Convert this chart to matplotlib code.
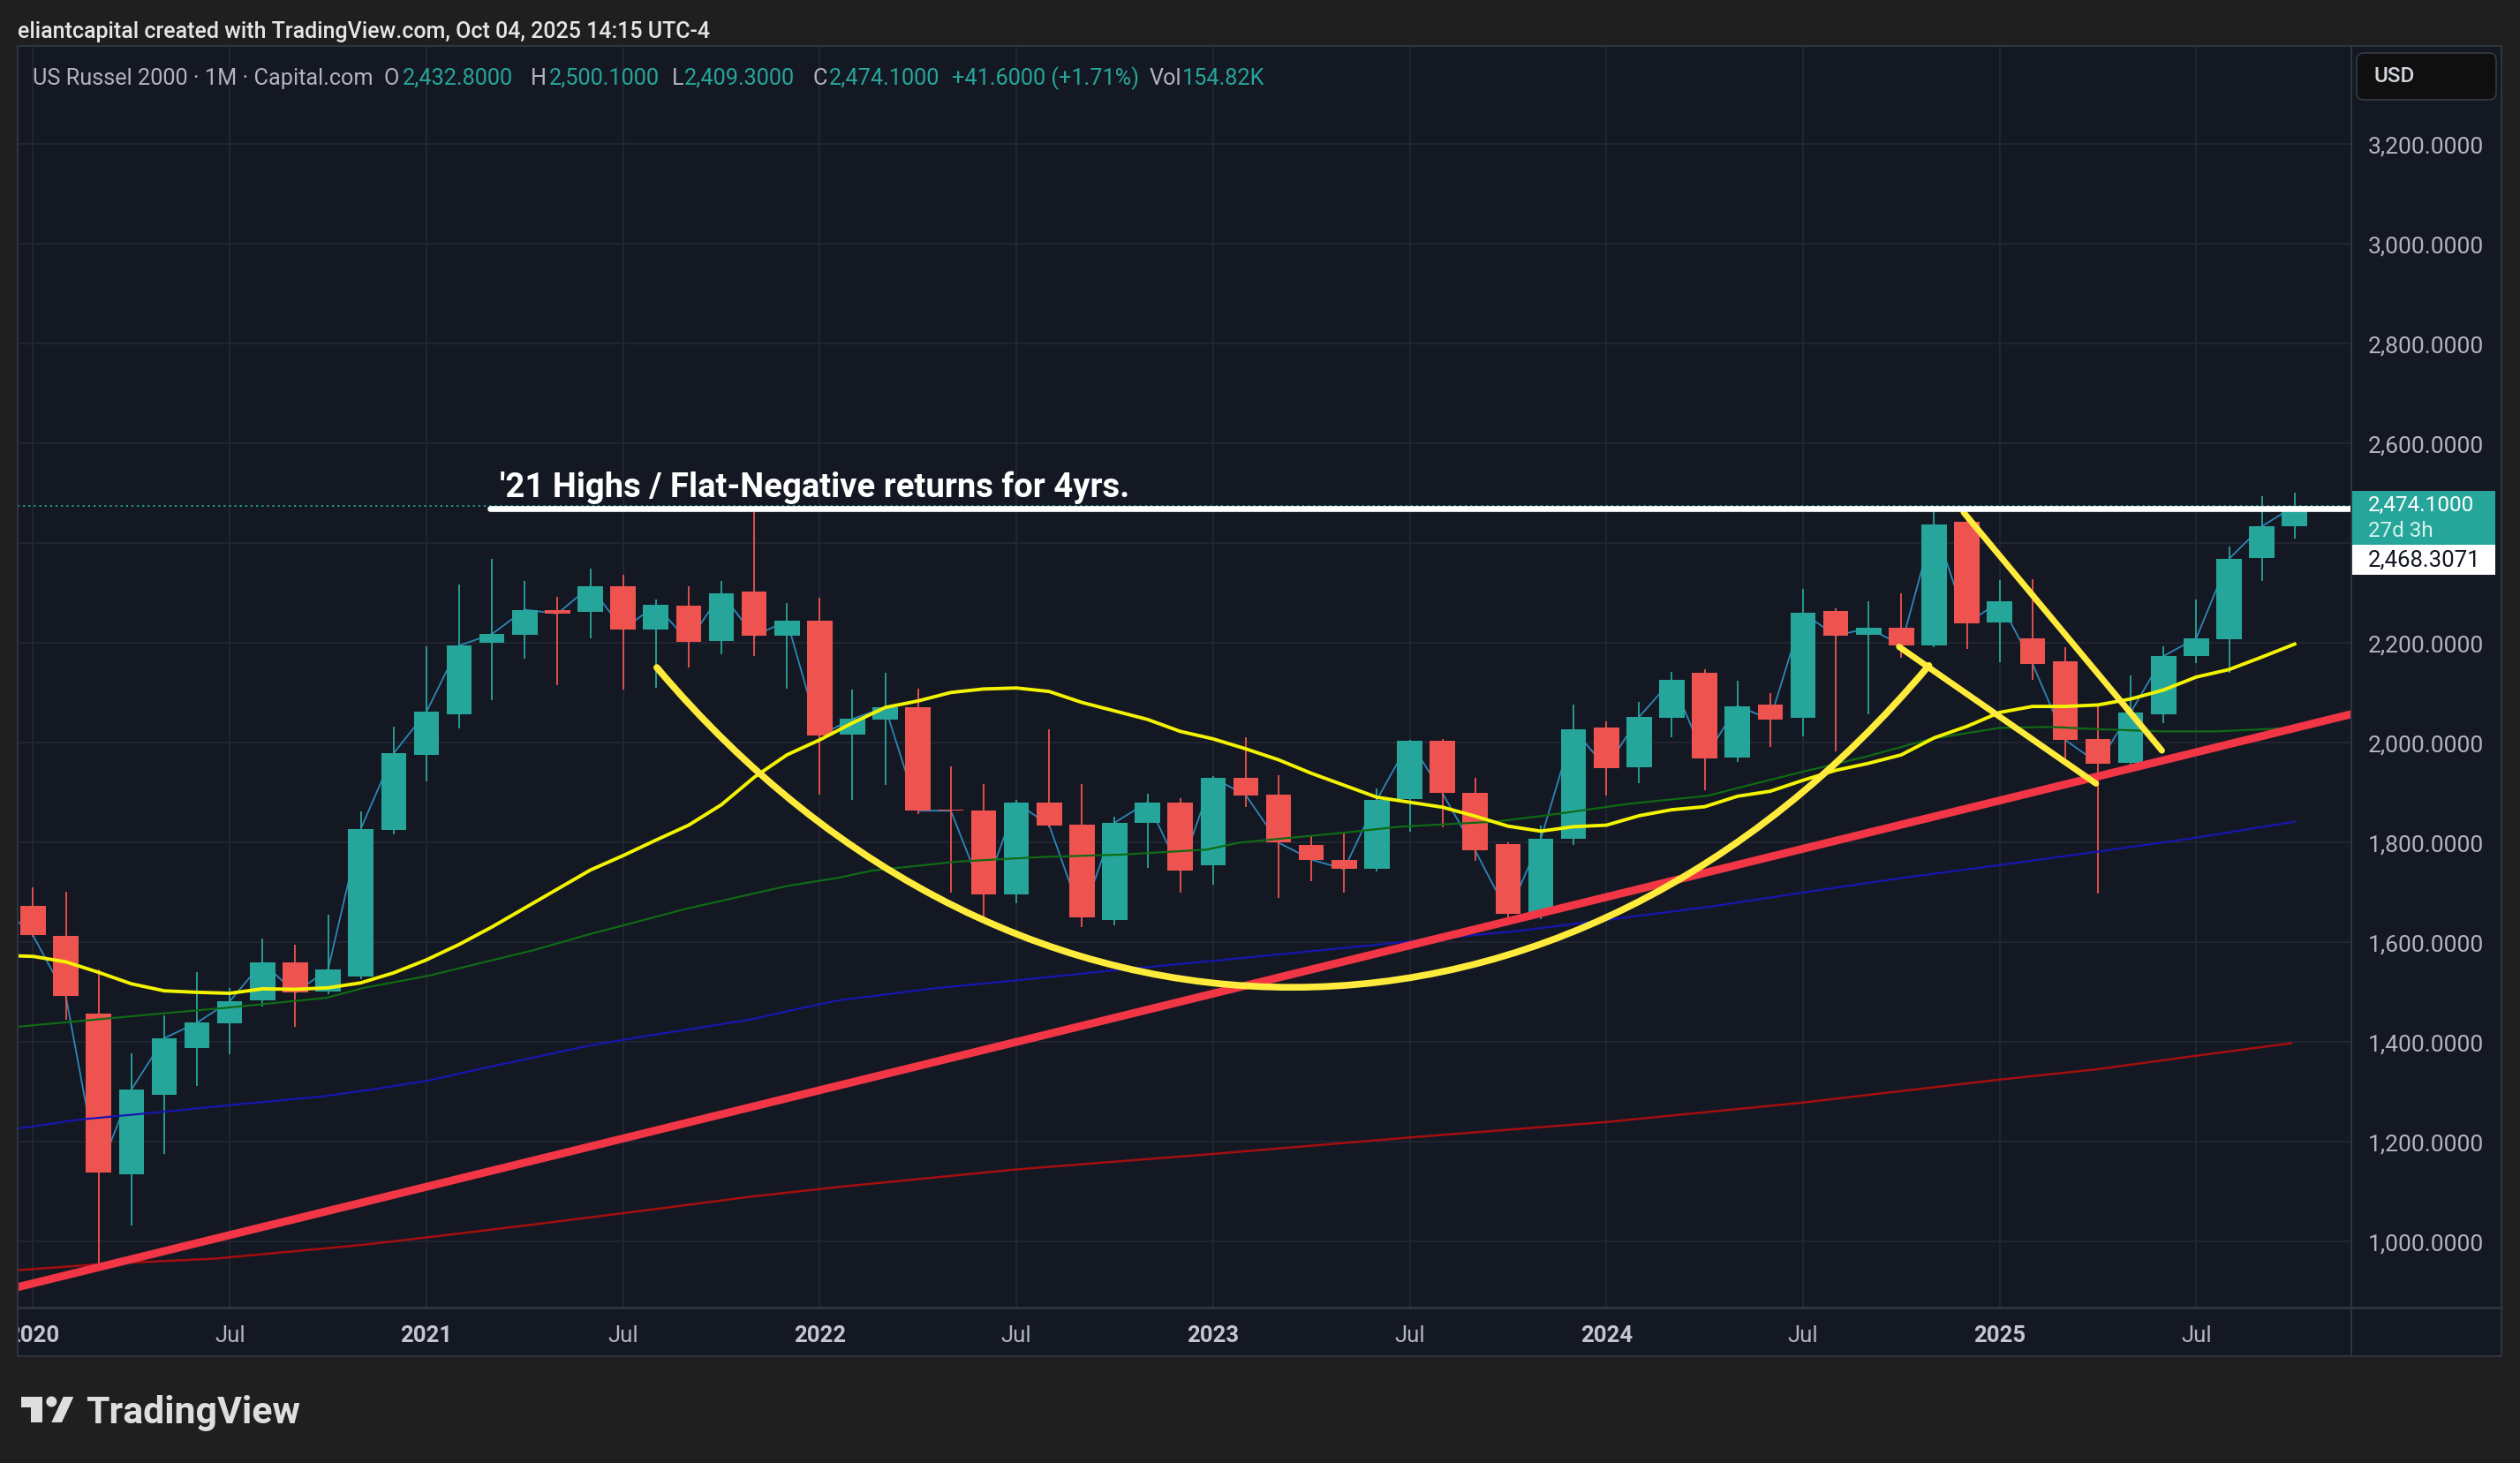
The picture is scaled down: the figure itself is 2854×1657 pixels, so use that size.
import matplotlib
matplotlib.use("Agg")
import matplotlib.pyplot as plt
from matplotlib.patches import Rectangle, FancyBboxPatch, Polygon, Circle, PathPatch
from matplotlib.path import Path
from matplotlib.lines import Line2D
from matplotlib.transforms import IdentityTransform, Bbox

plt.rcParams['font.family'] = ['Roboto', 'DejaVu Sans']

# ---------------- data (monthly candles, Jan 2020 .. Oct 2025) ----------------
months = list(range(70))
opens = [1672, 1612, 1456, 1135, 1293, 1388, 1437, 1482, 1559, 1501, 1531, 1825,
         1974, 2057, 2200, 2216, 2266, 2262, 2313, 2227, 2274, 2204, 2302, 2214,
         2244, 2016, 2045, 2070, 1866, 1863, 1696, 1879, 1835, 1644, 1839, 1880,
         1754, 1929, 1895, 1795, 1765, 1747, 1887, 2003, 1898, 1797, 1657, 1806,
         2030, 1950, 2049, 2139, 1970, 2076, 2049, 2263, 2215, 2229, 2195, 2442,
         2241, 2208, 2163, 2007, 1959, 2057, 2173, 2207, 2370, 2432.8]
highs = [1710, 1700, 1545, 1376, 1452, 1539, 1508, 1607, 1595, 1654, 1862, 2031,
         2192, 2316, 2368, 2323, 2292, 2349, 2336, 2287, 2313, 2323, 2462, 2279,
         2290, 2105, 2139, 2108, 1951, 1917, 1885, 2026, 1917, 1851, 1897, 1889,
         1932, 2010, 1934, 1814, 1819, 1907, 2005, 2007, 1929, 1800, 1833, 2076,
         2043, 2081, 2141, 2146, 2123, 2099, 2307, 2269, 2282, 2298, 2469, 2450,
         2325, 2327, 2190, 2075, 2134, 2193, 2286, 2393, 2493, 2500.1]
lows = [1610, 1444, 953, 1031, 1175, 1312, 1375, 1470, 1429, 1495, 1526, 1815,
        1921, 2028, 2085, 2167, 2114, 2209, 2105, 2110, 2150, 2176, 2173, 2107,
        1896, 1885, 1915, 1856, 1699, 1640, 1677, 1830, 1629, 1633, 1748, 1699,
        1714, 1871, 1689, 1722, 1699, 1741, 1821, 1829, 1763, 1633, 1646, 1795,
        1894, 1919, 2010, 1904, 1961, 1990, 2012, 1982, 2057, 2169, 2190, 2187,
        2161, 2126, 1968, 1697, 1951, 2039, 2159, 2139, 2324, 2409.3]
closes = [1613, 1491, 1137, 1304, 1407, 1438, 1481, 1559, 1498, 1545, 1827, 1978,
          2061, 2194, 2217, 2266, 2258, 2313, 2226, 2275, 2202, 2299, 2213, 2244,
          2014, 2047, 2070, 1863, 1863, 1696, 1879, 1834, 1650, 1839, 1880, 1743,
          1929, 1894, 1799, 1765, 1746, 1885, 2003, 1898, 1783, 1657, 1806, 2026,
          1949, 2051, 2125, 1968, 2073, 2046, 2259, 2214, 2229, 2195, 2437, 2239,
          2282, 2158, 2005, 1958, 2060, 2173, 2209, 2368, 2433, 2474.1]
prev_close = 1673  # Dec 2019 close (line enters from the left edge)

x_tick_months = [0, 6, 12, 18, 24, 30, 36, 42, 48, 54, 60, 66]
x_tick_labels = ['2020', 'Jul', '2021', 'Jul', '2022', 'Jul', '2023', 'Jul',
                 '2024', 'Jul', '2025', 'Jul']
price_ticks = [1000, 1200, 1400, 1600, 1800, 2000, 2200, 2400, 2600, 2800, 3000, 3200]
hidden_price_labels = [2400]  # covered by the price labels in the reference

# moving averages
ma_yellow_x = [-0.47] + list(range(70))
ma_yellow = [1572, 1571, 1560, 1539, 1516, 1502, 1499, 1497, 1506, 1505, 1508, 1518, 1538,
             1564, 1595, 1630, 1668, 1706, 1744, 1773, 1804, 1834, 1875, 1930, 1975,
             2005, 2039, 2070, 2083, 2100, 2107, 2109, 2102, 2080, 2063, 2046, 2022,
             2007, 1987, 1965, 1938, 1914, 1890, 1880, 1870, 1852, 1832, 1822, 1831,
             1834, 1853, 1865, 1871, 1892, 1902, 1924, 1944, 1958, 1975, 2009, 2032,
             2060, 2072, 2072, 2075, 2087, 2105, 2131, 2146, 2171, 2197]
ma_green_x = [-0.47, 4.0, 5.9, 8.95, 10.1, 12.05, 15.3, 16.95, 18, 19.9, 23, 24.6, 25.6,
              28.2, 30.7, 33.2, 35.8, 36.8, 40, 41.7, 44.6, 46.1, 48.7, 51.1, 52.1,
              53.8, 55.9, 57.9, 60, 61.5, 63.2, 64.9, 66.6, 69]
ma_green = [1430, 1457, 1468, 1488, 1508, 1532, 1584, 1615, 1633, 1666, 1712, 1729, 1743,
            1761, 1770, 1775, 1785, 1799, 1819, 1831, 1841, 1853, 1877, 1893, 1910,
            1938, 1971, 2007, 2029, 2031, 2026, 2022, 2022, 2029]
ma_blue_x = [-0.47, 1.43, 3.89, 6.34, 8.79, 10.42, 12.05, 13.68, 15.32, 16.95, 18.58,
             20.22, 21.85, 23.48, 24.6, 27.5, 30, 33.4, 36, 39.4, 42, 45.3, 48, 51.2,
             54, 57.1, 60, 63, 65.9, 69]
ma_blue = [1226, 1244, 1259, 1275, 1290, 1305, 1322, 1346, 1369, 1392, 1410, 1427, 1444,
           1468, 1483, 1507, 1523, 1546, 1562, 1584, 1601, 1622, 1644, 1671, 1699, 1729,
           1754, 1781, 1808, 1841]
ma_red_x = [-0.47, 2.25, 5.52, 8.79, 10.09, 12.05, 15.32, 18.58, 21.85, 24.6, 30, 36, 42,
            48, 54, 60, 63, 65.9, 68.9]
ma_red = [942, 955, 965, 985, 993, 1008, 1034, 1061, 1089, 1109, 1144, 1175, 1208, 1239,
          1278, 1324, 1345, 1371, 1397]

last_price = 2474.1
level_21_high = 2468.3071

# ---------------- styling ----------------
W, H = 2854, 1658
BG_OUT = '#1f1f1f'
BG_PANE = '#141823'
GRID = '#232733'
BORDER = '#30343f'
UP = '#26a69a'
DOWN = '#ef5350'
TXT = '#b2b5be'
YEL_DRAW = '#ffeb3b'
YEL_MA = '#f4f400'
I = IdentityTransform()

fig = plt.figure(figsize=(W / 100, H / 100), dpi=100, facecolor=BG_OUT)


def add_rect(x0, y0, x1, y1, **kw):
    r = Rectangle((x0, H - y1), x1 - x0, y1 - y0, transform=I, **kw)
    fig.add_artist(r)
    return r


def add_line(xs, ys, **kw):
    fig.add_artist(Line2D(xs, [H - y for y in ys], transform=I, **kw))


def add_text(x, y, s, **kw):
    return fig.text(x, H - y, s, transform=I, **kw)


# chart pane background
add_rect(20, 53, 2833, 1537, facecolor=BG_PANE, edgecolor='none', zorder=-1)

AX_L, AX_R, AX_T, AX_B = 20, 2663, 53, 1482
ax = fig.add_axes([AX_L / W, 1 - AX_B / H, (AX_R - AX_L) / W, (AX_B - AX_T) / H])
ax.set_facecolor(BG_PANE)
ax.set_xlim(-0.471, 70.73)
ax.set_ylim(867, 3396)
for s in ax.spines.values():
    s.set_visible(False)

# ticks
ax.yaxis.tick_right()
ax.set_yticks(price_ticks)
ax.set_yticklabels(['' if v in hidden_price_labels else f"{v:,.4f}" for v in price_ticks])
ax.tick_params(axis='y', length=0, pad=13.7, labelsize=19, labelcolor=TXT)
ax.set_xticks(x_tick_months)
ax.set_xticklabels(x_tick_labels)
ax.tick_params(axis='x', length=0, pad=13.5, labelsize=18.5, labelcolor=TXT)
clipbox = Bbox.from_extents(AX_L, 0, AX_R, H)
for lbl in ax.get_xticklabels():
    if lbl.get_text() != 'Jul':
        lbl.set_fontweight('bold')
        lbl.set_color('#c3c6ce')
    lbl.set_clip_box(clipbox)
    lbl.set_clip_on(True)
ax.grid(True, color=GRID, lw=1.3)
ax.set_axisbelow(True)

# close line
ax.plot([-1] + months, [prev_close] + closes, color='#2e86b8', lw=1.3, zorder=2.5)

# candles
cols = [UP if c >= o else DOWN for o, c in zip(opens, closes)]
bottoms = [min(o, c) for o, c in zip(opens, closes)]
heights = [max(abs(c - o), 3) for o, c in zip(opens, closes)]
ax.vlines(months, lows, highs, colors=cols, lw=1.3, zorder=3)
ax.bar(months, heights, bottom=bottoms, width=0.77, color=cols, lw=0, zorder=4)

# moving averages
ax.plot(ma_red_x, ma_red, color='#a50e0e', lw=1.8, zorder=5)
ax.plot(ma_blue_x, ma_blue, color='#1616b0', lw=1.6, zorder=5)
ax.plot(ma_green_x, ma_green, color='#0f6a14', lw=1.6, zorder=5)
ax.plot(ma_yellow_x, ma_yellow, color=YEL_MA, lw=2.8, zorder=5)

# drawings
ax.axline((2, 947.9), (64, 1948.0), color='#f23645', lw=6.5, zorder=6)
cup = Path([(19.03, 2150), (30.03, 1294.7), (46.84, 1294.7), (57.84, 2154)],
           [Path.MOVETO, Path.CURVE4, Path.CURVE4, Path.CURVE4])
ax.add_patch(PathPatch(cup, fill=False, edgecolor=YEL_DRAW, lw=5.5, capstyle='round', zorder=7))
ax.plot([56.93, 62.94], [2191.6, 1917.4], color=YEL_DRAW, lw=5.0,
        solid_capstyle='round', zorder=7)
ax.plot([58.9, 64.95], [2461, 1983.5], color=YEL_DRAW, lw=5.0,
        solid_capstyle='round', zorder=7)

# '21 highs level + current price line
ax.axhline(last_price, color=UP, lw=1.3, ls=(0, (1.2, 2.2)), zorder=7)
ax.plot([13.94, 72], [level_21_high, level_21_high], color='white', lw=4.8,
        solid_capstyle='round', zorder=8)
ax.text(14.24, 2492.6, "'21 Highs / Flat-Negative returns for 4yrs.", color='white',
        fontsize=27.5, fontweight='bold', va='baseline', ha='left', zorder=9)

# pane borders / dividers
add_line([20, 2833], [53, 53], color=BORDER, lw=1.5)
add_line([20, 20], [53, 1537], color=BORDER, lw=1.5)
add_line([20, 2833], [1537, 1537], color=BORDER, lw=1.5)
add_line([2833, 2833], [53, 1537], color=BORDER, lw=1.5)
add_line([20, 2833], [1482, 1482], color=BORDER, lw=2.0)
add_line([2663, 2663], [53, 1537], color=BORDER, lw=1.5)

# USD box
usd = FancyBboxPatch((2669, H - 114), 158, 53, boxstyle='round,pad=0,rounding_size=8',
                     transform=I, facecolor='#0f0f0f', edgecolor='#363a45', lw=1.2)
fig.add_artist(usd)
add_text(2688, 87, 'USD', color='#d1d4dc', fontsize=17.5, fontweight='medium', va='center')

# price labels
add_rect(2664, 557, 2826, 618, facecolor=UP, edgecolor='none', zorder=2)
add_text(2682, 572, '2,474.1000', color='white', fontsize=17.5, va='center', zorder=3)
add_text(2682, 602, '27d 3h', color='#d9f2ef', fontsize=17.5, va='center', zorder=3)
add_rect(2664, 618, 2826, 652, facecolor='white', edgecolor='none', zorder=2)
add_text(2682, 635, '2,468.3071', color='#131722', fontsize=18.5, va='center', zorder=3)

# header
add_text(20, 36, 'eliantcapital created with TradingView.com, Oct 04, 2025 14:15 UTC-4',
         color='#e6e6e6', fontsize=18, fontweight='medium', va='center')

legend_parts = [
    (37, 'US Russel 2000 · 1M · Capital.com', TXT),
    (435, 'O', TXT), (456, '2,432.8000', UP),
    (601, 'H', TXT), (622, '2,500.1000', UP),
    (761, 'L', TXT), (775, '2,409.3000', UP),
    (920, 'C', TXT), (939, '2,474.1000', UP),
    (1078, '+41.6000 (+1.71%)', UP),
    (1302, 'Vol', TXT), (1339, '154.82K', UP),
]
for x, s, c in legend_parts:
    add_text(x, 89, s, color=c, fontsize=18.2, va='center')

# TradingView logo
LOGO = '#dedede'
fig.add_artist(Polygon([(24, H - 1583), (48, H - 1583), (48, H - 1612), (35, H - 1612),
                        (35, H - 1595), (24, H - 1595)], closed=True, transform=I,
                       facecolor=LOGO, edgecolor='none'))
fig.add_artist(Circle((58.3, H - 1588.5), 6, transform=I, facecolor=LOGO, edgecolor='none'))
fig.add_artist(Polygon([(71.7, H - 1583), (83.3, H - 1583), (70, H - 1612), (58.3, H - 1612)],
                       closed=True, transform=I, facecolor=LOGO, edgecolor='none'))
add_text(97, 1612, 'TradingView', color=LOGO, fontsize=30.8, fontweight='bold', va='baseline')

fig.savefig('out.png', dpi=100, facecolor=BG_OUT)
